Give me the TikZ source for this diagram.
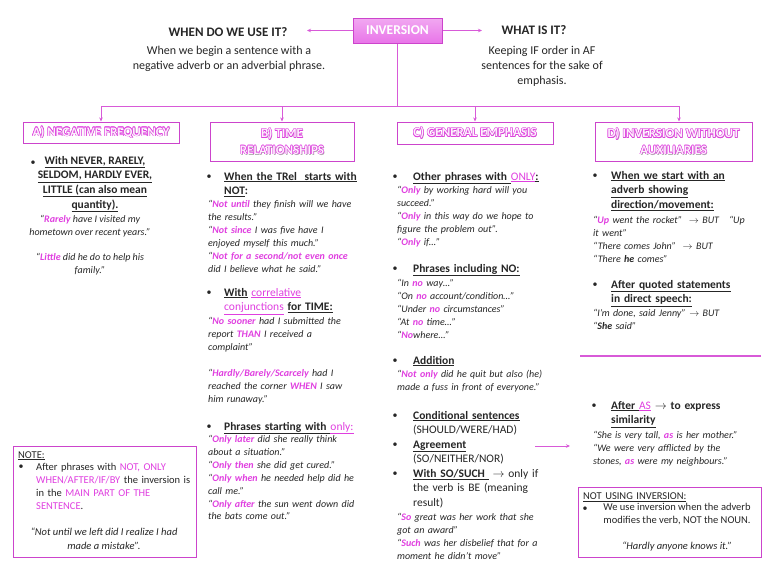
\documentclass[tikz,border=0pt]{standalone}
\usepackage{fontspec}
\setmainfont{Carlito}
\usetikzlibrary{arrows.meta, positioning}
\definecolor{hot}{HTML}{E03FE0}
\definecolor{wire}{HTML}{D85AD8}
\definecolor{edge}{HTML}{CC44CC}
\definecolor{ink}{HTML}{262626}
\tikzset{
  topbox/.style={rectangle, draw=edge, line width=1pt,
                 top color=hot!45, bottom color=hot!72,
                 minimum width=89pt, minimum height=25pt,
                 font=\bfseries\fontsize{13.5}{15}\selectfont, text=white},
  headbox/.style={rectangle, draw=edge, line width=1pt, align=center,
                  inner sep=0pt, font=\bfseries\fontsize{13}{16.5}\selectfont},
  title/.style={font=\bfseries\fontsize{13}{15}\selectfont, text=ink},
  plain/.style={align=center, anchor=north, inner sep=0pt,
                font=\fontsize{12}{15}\selectfont, text=ink},
  point/.style={anchor=base west, inner sep=0pt, align=left,
                text width=165pt, text=ink,
                font=\bfseries\fontsize{11.5}{14.6}\selectfont},
  example/.style={anchor=base west, inner sep=0pt, align=left,
                  text width=175pt, text=ink,
                  font=\itshape\fontsize{10}{12.9}\selectfont},
  notetxt/.style={anchor=base west, inner sep=0pt, align=left, text=ink,
                  text width=170pt, font=\fontsize{10.5}{13.3}\selectfont},
  dot/.style={inner sep=0pt, text=ink, font=\fontsize{10}{12}\selectfont},
  link/.style={draw=wire, line width=0.8pt},
  arrow/.style={link, -{Stealth[length=4pt, width=3.5pt]}},
  notebox/.style={rectangle, draw=edge, line width=1pt, anchor=north west},
}
\newcommand{\ul}[1]{\underline{#1}}
\newcommand{\hl}[1]{\textcolor{hot}{\textbf{#1}}}
\newcommand{\pk}[1]{\textcolor{hot}{\mdseries\underline{#1}}}
\newcommand{\outl}[1]{%
  \rlap{\hspace{0.8pt}\raisebox{-0.8pt}{\textcolor{black!30}{#1}}}%
  \rlap{\hspace{-0.5pt}\textcolor{hot}{#1}}%
  \rlap{\hspace{0.5pt}\textcolor{hot}{#1}}%
  \rlap{\raisebox{0.5pt}{\textcolor{hot}{#1}}}%
  \rlap{\raisebox{-0.5pt}{\textcolor{hot}{#1}}}%
  \rlap{\hspace{0.35pt}\raisebox{0.35pt}{\textcolor{hot}{#1}}}%
  \rlap{\hspace{-0.35pt}\raisebox{-0.35pt}{\textcolor{hot}{#1}}}%
  \rlap{\hspace{0.35pt}\raisebox{-0.35pt}{\textcolor{hot}{#1}}}%
  \rlap{\hspace{-0.35pt}\raisebox{0.35pt}{\textcolor{hot}{#1}}}%
  \textcolor{hot!8}{#1}}

\begin{document}
\begin{tikzpicture}[x=1pt, y=-1pt]
  \useasboundingbox[fill=white] (0,0) rectangle (768,576);

  % top of the map
  \node[topbox] (inv) at (397.5,30.5) {INVERSION};
  \node[title] (when) at (228,32) {WHEN DO WE USE IT?};
  \node[plain] (whendesc) at (229,46)
    {When we begin a sentence with a\\negative adverb or an adverbial phrase.};
  \node[title] (what) at (534,30) {WHAT IS IT?};
  \node[plain] (whatdesc) at (542,46)
    {Keeping IF order in AF\\sentences for the sake of\\emphasis.};
  \coordinate (whenend) at (307,30.5);
  \coordinate (whatend) at (482,30.5);
  \draw[arrow] (inv.west) -- (whenend);
  \draw[arrow] (inv.east) -- (whatend);

  % the four branches
  \node[headbox, minimum width=156pt, minimum height=21pt] (negfreq)
    at (101,132.5) {\outl{A) NEGATIVE FREQUENCY}};
  \node[headbox, minimum width=144pt, minimum height=39pt] (timerel)
    at (282,141.5) {\outl{B) TIME}\\\outl{RELATIONSHIPS}};
  \node[headbox, minimum width=156pt, minimum height=22pt] (genemph)
    at (475,133) {\outl{C) GENERAL EMPHASIS}};
  \node[headbox, minimum width=157pt, minimum height=39pt] (noaux)
    at (673.5,141.5) {\outl{D) INVERSION WITHOUT}\\\outl{AUXILIARIES}};

  \coordinate (hub) at (397.5,106);
  \coordinate (hubA) at (101,106);
  \coordinate (hubB) at (282,106);
  \coordinate (hubC) at (475,106);
  \coordinate (hubD) at (679,106);
  \draw[link] (inv.south) -- (hub);
  \draw[link] (hubA) -- (hubD);
  \draw[arrow] (hubA) -- (negfreq.north);
  \draw[arrow] (hubB) -- (timerel.north);
  \draw[arrow] (hubC) -- (genemph.north);
  \draw[arrow] (hubD) -- (hubD |- noaux.north);

  % A) negative frequency
  \node[dot] at (33,163) {\textbullet};
  \node[point, anchor=north, align=center, text width=] (neverpt) at (95,156)
    {\ul{With NEVER, RARELY,}\\\ul{SELDOM, HARDLY EVER,}\\
     \ul{LITTLE (can also mean}\\\ul{quantity).}};
  \node[example, anchor=north, align=center, text width=] (rarely) at (90,215)
    {“\hl{Rarely} have I visited my\\hometown over recent years.”};
  \node[example, anchor=north, align=center, text width=] (little) at (90,253)
    {“\hl{Little} did he do to help his\\family.”};

  \node[notebox, minimum width=183pt, minimum height=111pt] (note) at (13,446) {};
  \node[notetxt] (notehead) at (18,458) {\ul{NOTE:}};
  \node[dot] at (21,467) {\textbullet};
  \node[notetxt] (notebody) at (36,470)
    {After phrases with \textcolor{hot}{NOT, ONLY}\\
     \textcolor{hot}{WHEN/AFTER/IF/BY} the inversion is\\
     in the \textcolor{hot}{MAIN PART OF THE}\\\textcolor{hot}{SENTENCE}.};
  \node[notetxt, font=\itshape\fontsize{10.5}{13.3}\selectfont, anchor=north,
        align=center, text width=] (notequote) at (104,528)
    {“Not until we left did I realize I had\\made a mistake”.};

  % B) time relationships
  \node[dot] at (209,177) {\textbullet};
  \node[point] (notpt) at (224,180)
    {\ul{When the TRel\ \ starts with}\\\ul{NOT}:};
  \node[example] (notex) at (208,207.5)
    {“\hl{Not until} they finish will we have\\the results.”\\
     “\hl{Not since} I was five have I\\enjoyed myself this much.”\\
     “\hl{Not for a second/not even once}\\did I believe what he said.”};
  \node[dot] at (209,293) {\textbullet};
  \node[point] (corrpt) at (224,296)
    {\ul{With} \pk{correlative}\\\pk{conjunctions} \ul{for TIME:}};
  \node[example] (soonerex) at (208,324.5)
    {“\hl{No sooner} had I submitted the\\report \hl{THAN} I received a\\complaint”};
  \node[example] (hardlyex) at (208,376.5)
    {“\hl{Hardly/Barely/Scarcely} had I\\reached the corner \hl{WHEN} I saw\\him runaway.”};
  \node[dot] at (209,427) {\textbullet};
  \node[point] (onlypt) at (224,430)
    {\ul{Phrases starting with }\pk{only:}};
  \node[example] (onlyex) at (208,442.5)
    {“\hl{Only later} did she really think\\about a situation.”\\
     “\hl{Only then} she did get cured.”\\
     “\hl{Only when} he needed help did he\\call me.”\\
     “\hl{Only after} the sun went down did\\the bats come out.”};

  % C) general emphasis
  \node[dot] at (395,177) {\textbullet};
  \node[point] (otherpt) at (413,180)
    {\ul{Other phrases with }\pk{ONLY}\ul{:}};
  \node[example] (otherex) at (397,193.5)
    {“\hl{Only} by working hard will you\\succeed.”\\
     “\hl{Only} in this way do we hope to\\figure the problem out”.\\
     “\hl{Only} if…”};
  \node[dot] at (395,269) {\textbullet};
  \node[point] (nopt) at (413,272) {\ul{Phrases including NO:}};
  \node[example] (noex) at (397,286.5)
    {“In \hl{no} way…”\\“On \hl{no} account/condition…”\\
     “Under \hl{no} circumstances”\\“At \hl{no} time…”\\“\hl{No}where…”};
  \node[dot] at (395,361) {\textbullet};
  \node[point] (addpt) at (413,364) {\ul{Addition}};
  \node[example] (addex) at (397,377.5)
    {“\hl{Not only} did he quit but also (he)\\made a fuss in front of everyone.”};
  \node[dot] at (395,416) {\textbullet};
  \node[point] (condpt) at (413,419)
    {\ul{Conditional sentences}\\\mdseries(SHOULD/WERE/HAD)};
  \node[dot] at (395,445) {\textbullet};
  \node[point] (agrpt) at (413,448)
    {\ul{Agreement}\\\mdseries(SO/NEITHER/NOR)};
  \node[dot] at (395,474) {\textbullet};
  \node[point] (suchpt) at (413,477)
    {\ul{With SO/SUCH\ } $\rightarrow$ \mdseries only if\\
     the verb is BE (meaning\\result)};
  \node[example] (suchex) at (397,520.5)
    {“\hl{So} great was her work that she\\got an award”\\
     “\hl{Such} was her disbelief that for a\\moment he didn’t move”};
  \coordinate (agrtail) at (535,446);
  \coordinate (agrhead) at (570,446);
  \draw[arrow] (agrtail) -- (agrhead);

  % D) inversion without auxiliaries
  \node[dot] at (595,176) {\textbullet};
  \node[point] (dirpt) at (611,179)
    {\ul{When we start with an}\\\ul{adverb showing}\\
     \ul{direction/movement:}};
  \node[example] (direx) at (593,223.5)
    {“\hl{Up} went the rocket”\ \ $\rightarrow$ BUT\ \ \ “Up\\it went”\\
     “There comes John”\ \ $\rightarrow$ BUT\\“There \textbf{he} comes”};
  \node[dot] at (595,285) {\textbullet};
  \node[point] (quotpt) at (611,288)
    {\ul{After quoted statements}\\\ul{in direct speech:}};
  \node[example] (quotex) at (593,316.5)
    {“I’m done, said Jenny” $\rightarrow$ BUT\\“\textbf{She} said”};
  \coordinate (sepL) at (580,356);
  \coordinate (sepR) at (761,356);
  \draw[link, line width=1.6pt] (sepL) -- (sepR);
  \node[dot] at (594,406) {\textbullet};
  \node[point] (aspt) at (611,409)
    {\ul{After }\pk{AS} $\rightarrow$ to express\\\ul{similarity}};
  \node[example] (asex) at (593,438.5)
    {“She is very tall, \hl{as} is her mother.”\\
     “We were very afflicted by the\\stones, \hl{as} were my neighbours.”};

  \node[notebox, minimum width=183pt, minimum height=70pt] (notusing) at (578,487) {};
  \node[notetxt] (notusinghead) at (583,499.5) {\ul{NOT USING INVERSION:}};
  \node[dot] at (585,509) {\textbullet};
  \node[notetxt, anchor=north, align=center, text width=] (notusingtxt) at (677,503)
    {We use inversion when the adverb\\modifies the verb, NOT the NOUN.};
  \node[notetxt, font=\itshape\fontsize{10.5}{13.3}\selectfont, anchor=north,
        text width=] (notusingquote) at (677,542) {“Hardly anyone knows it.”};
\end{tikzpicture}
\end{document}
